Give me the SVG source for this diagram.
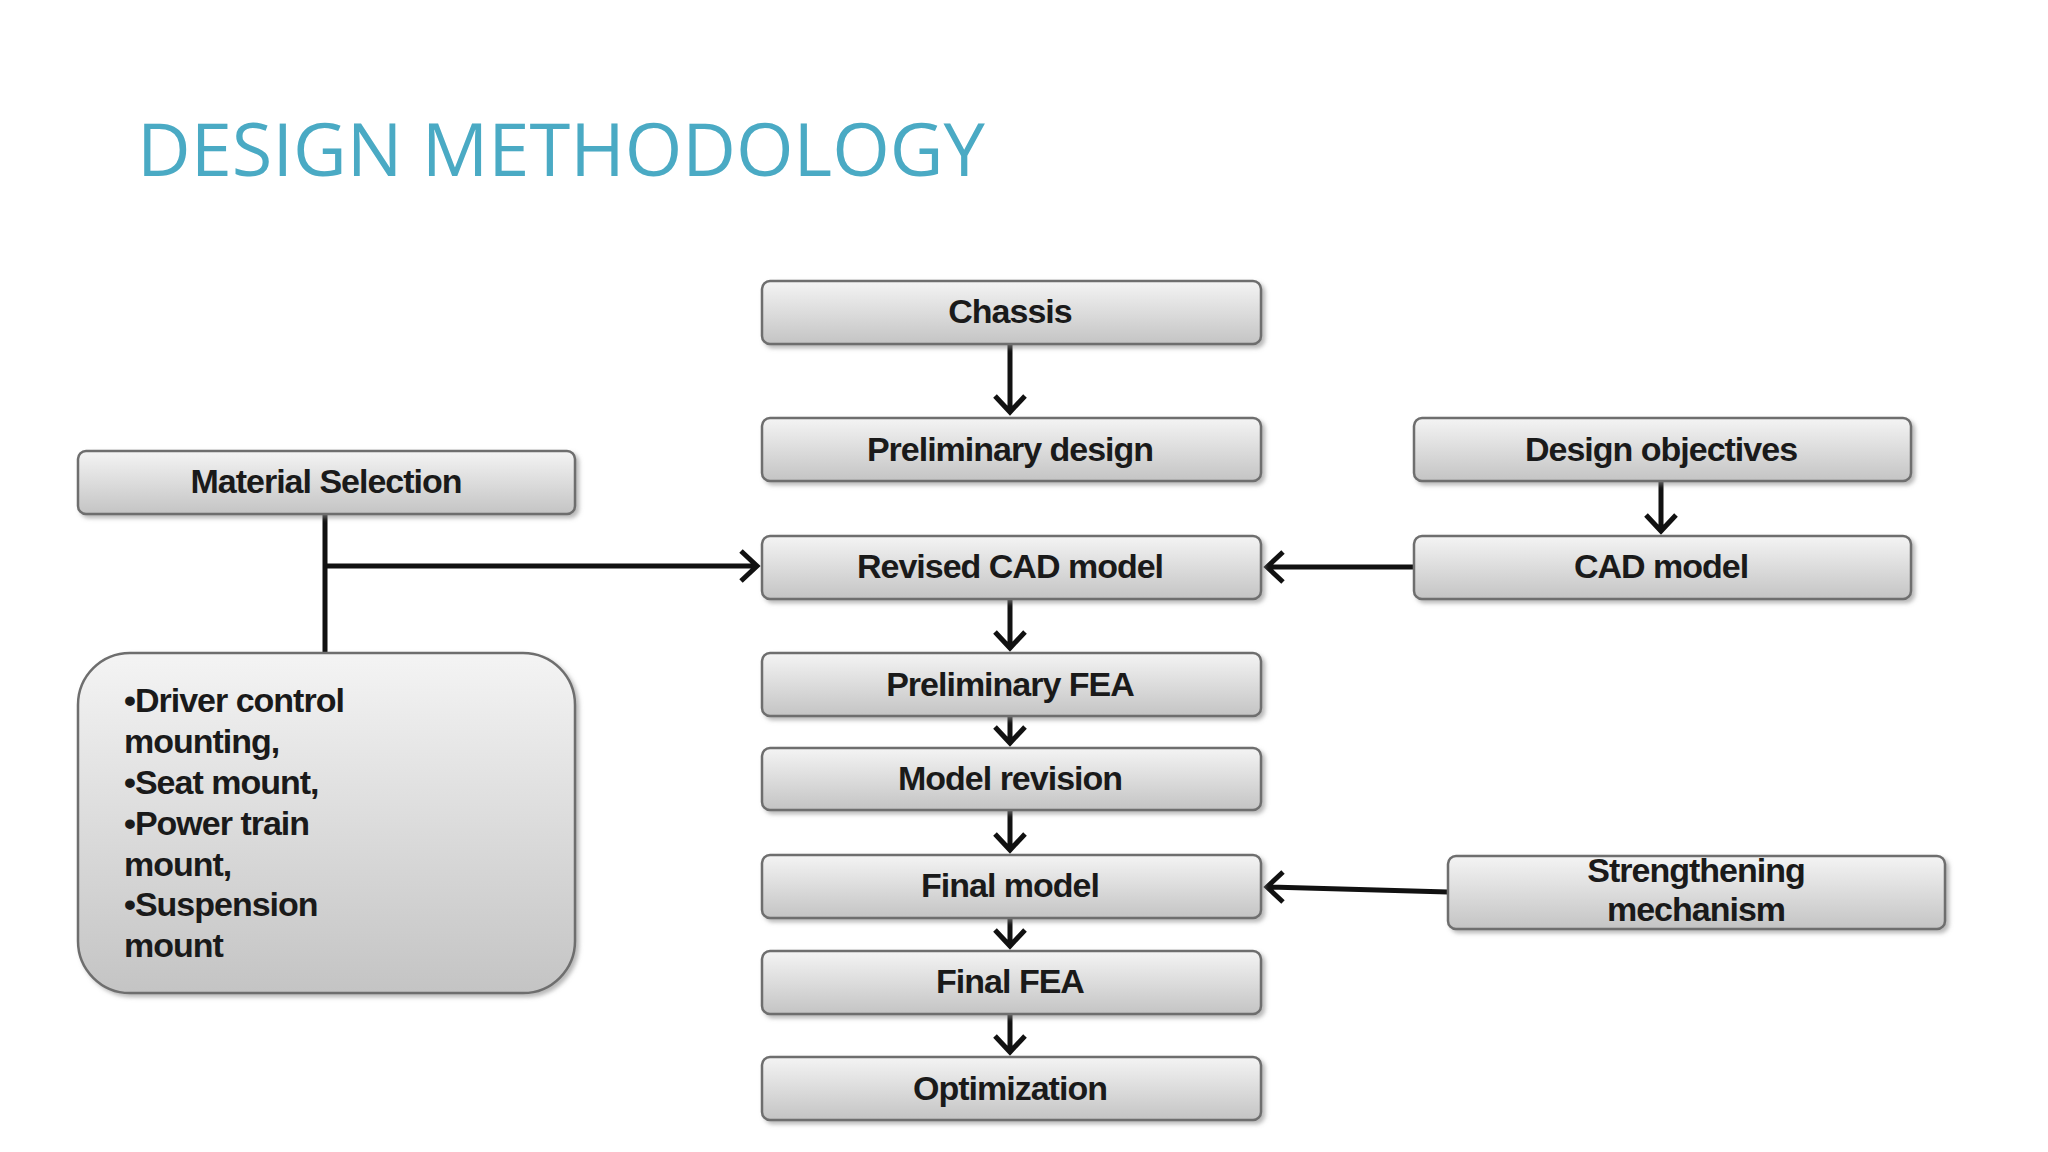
<svg xmlns="http://www.w3.org/2000/svg" width="2048" height="1152" viewBox="0 0 2048 1152">
<style>
.b{fill:url(#g);stroke:#6e6e6e;stroke-width:2.5;filter:url(#s)}
.t{font-family:"Liberation Sans",Arial,sans-serif;font-weight:bold;font-size:34px;fill:#1a1a1a;text-anchor:middle;letter-spacing:-1px}
.l{font-family:"Liberation Sans",Arial,sans-serif;font-weight:bold;font-size:34px;fill:#1a1a1a;letter-spacing:-1px}
.c{stroke:#111;stroke-width:5;fill:none}
</style>
<defs>
<linearGradient id="g" x1="0" y1="0" x2="0" y2="1"><stop offset="0" stop-color="#f4f4f4"/><stop offset="1" stop-color="#c4c4c4"/></linearGradient>
<filter id="s" x="-5%" y="-10%" width="115%" height="130%"><feDropShadow dx="3" dy="3" stdDeviation="2" flood-color="#888" flood-opacity="0.6"/></filter>
<marker id="a" viewBox="0 0 10 10" refX="9" refY="5" markerWidth="5" markerHeight="5" orient="auto" markerUnits="userSpaceOnUse" overflow="visible"><path d="M-2,-6 L9,5 L-2,16" transform="scale(1.6) translate(-3,-2)" fill="none" stroke="#111" stroke-width="2.5"/></marker>
</defs>
<rect width="2048" height="1152" fill="#fff"/>
<text x="137" y="176" font-family="'Open Sans','Liberation Sans',sans-serif" font-size="74" fill="#4aaac4">DESIGN METHODOLOGY</text>
<g id="connectors" class="c">
<path d="M1010,344 V412 M995,396 L1010,412 L1025,396"/>
<path d="M1010,599 V648 M995,632 L1010,648 L1025,632"/>
<path d="M1010,716 V743 M995,727 L1010,743 L1025,727"/>
<path d="M1010,810 V850 M995,834 L1010,850 L1025,834"/>
<path d="M1010,918 V946 M995,930 L1010,946 L1025,930"/>
<path d="M1010,1014 V1052 M995,1036 L1010,1052 L1025,1036"/>
<path d="M1661,481 V531 M1646,515 L1661,531 L1676,515"/>
<path d="M1414,567 H1267 M1283,552 L1267,567 L1283,582"/>
<path d="M1448,892 L1267,887 M1283,872 L1267,887 L1283,902"/>
<path d="M325,514 V653 M325,566 H757 M741,551 L757,566 L741,581"/>
</g>
<g id="chassis"><rect class="b" x="762" y="281" width="499" height="63" rx="8"/><text class="t" x="1010" y="323">Chassis</text></g>
<g id="prelim"><rect class="b" x="762" y="418" width="499" height="63" rx="8"/><text class="t" x="1010" y="461">Preliminary design</text></g>
<g id="revised"><rect class="b" x="762" y="536" width="499" height="63" rx="8"/><text class="t" x="1010" y="578">Revised CAD model</text></g>
<g id="prefea"><rect class="b" x="762" y="653" width="499" height="63" rx="8"/><text class="t" x="1010" y="696">Preliminary FEA</text></g>
<g id="modelrev"><rect class="b" x="762" y="748" width="499" height="62" rx="8"/><text class="t" x="1010" y="790">Model revision</text></g>
<g id="finalmodel"><rect class="b" x="762" y="855" width="499" height="63" rx="8"/><text class="t" x="1010" y="897">Final model</text></g>
<g id="finalfea"><rect class="b" x="762" y="951" width="499" height="63" rx="8"/><text class="t" x="1010" y="993">Final FEA</text></g>
<g id="opt"><rect class="b" x="762" y="1057" width="499" height="63" rx="8"/><text class="t" x="1010" y="1100">Optimization</text></g>
<g id="objectives"><rect class="b" x="1414" y="418" width="497" height="63" rx="8"/><text class="t" x="1661" y="461">Design objectives</text></g>
<g id="cad"><rect class="b" x="1414" y="536" width="497" height="63" rx="8"/><text class="t" x="1661" y="578">CAD model</text></g>
<g id="strength"><rect class="b" x="1448" y="856" width="497" height="73" rx="8"/><text class="t" x="1696" y="882">Strengthening</text><text class="t" x="1696" y="921">mechanism</text></g>
<g id="material"><rect class="b" x="78" y="451" width="497" height="63" rx="8"/><text class="t" x="326" y="493">Material Selection</text></g>
<g id="mounts"><rect class="b" x="78" y="653" width="497" height="340" rx="52"/>
<text class="l" x="124" y="712">•Driver control</text>
<text class="l" x="124" y="753">mounting,</text>
<text class="l" x="124" y="794">•Seat mount,</text>
<text class="l" x="124" y="835">•Power train</text>
<text class="l" x="124" y="876">mount,</text>
<text class="l" x="124" y="916">•Suspension</text>
<text class="l" x="124" y="957">mount</text>
</g>
</svg>
